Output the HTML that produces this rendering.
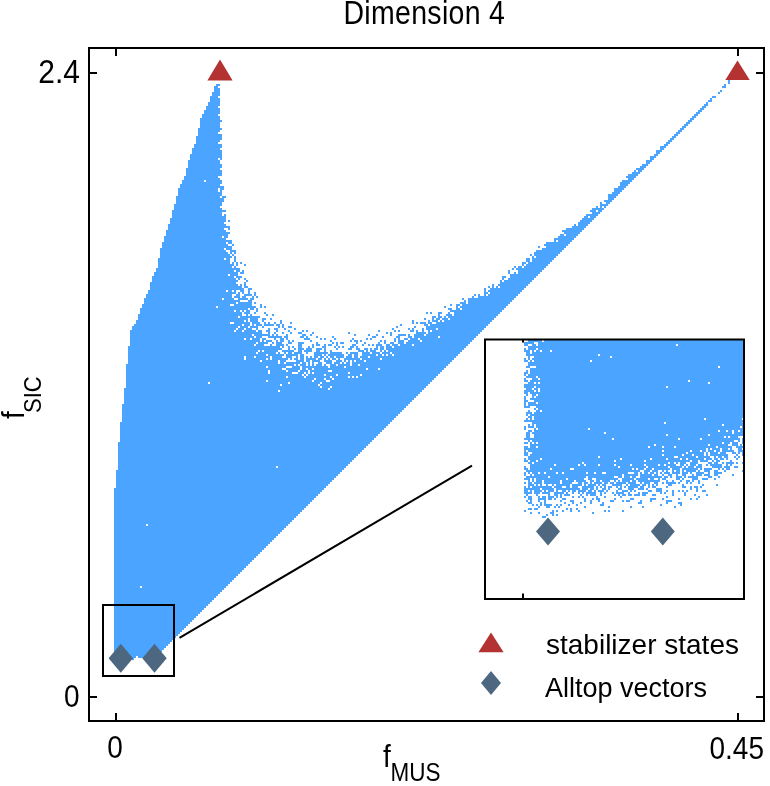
<!DOCTYPE html><html><head><meta charset="utf-8"><style>html,body{margin:0;padding:0;background:#fff;overflow:hidden}svg{display:block}</style></head><body><svg width="770" height="786" viewBox="0 0 770 786"><rect width="770" height="786" fill="#fff"/><path d="M728 80h2v2h-2zM728 82h2v2h-2zM216 84h4v2h-4zM724 84h2v2h-2zM214 86h4v2h-4zM722 86h4v2h-4zM214 88h6v2h-6zM214 90h6v2h-6zM720 90h2v2h-2zM212 92h8v2h-8zM718 92h2v2h-2zM212 94h8v2h-8zM210 96h8v2h-8zM712 96h4v2h-4zM210 98h10v2h-10zM710 98h2v2h-2zM210 100h10v2h-10zM708 100h4v2h-4zM208 102h12v2h-12zM706 102h2v2h-2zM208 104h12v2h-12zM704 104h4v2h-4zM206 106h12v2h-12zM702 106h4v2h-4zM206 108h14v2h-14zM700 108h4v2h-4zM204 110h16v2h-16zM698 110h4v2h-4zM204 112h16v2h-16zM696 112h4v2h-4zM202 114h16v2h-16zM694 114h4v2h-4zM202 116h18v2h-18zM692 116h4v2h-4zM200 118h20v2h-20zM690 118h4v2h-4zM200 120h22v2h-22zM688 120h4v2h-4zM200 122h20v2h-20zM686 122h4v2h-4zM200 124h20v2h-20zM684 124h4v2h-4zM200 126h20v2h-20zM682 126h4v2h-4zM198 128h24v2h-24zM680 128h4v2h-4zM198 130h22v2h-22zM678 130h4v2h-4zM198 132h20v2h-20zM676 132h4v2h-4zM198 134h24v2h-24zM674 134h4v2h-4zM196 136h26v2h-26zM672 136h4v2h-4zM196 138h26v2h-26zM670 138h4v2h-4zM196 140h24v2h-24zM668 140h4v2h-4zM196 142h22v2h-22zM666 142h4v2h-4zM194 144h28v2h-28zM664 144h4v2h-4zM194 146h28v2h-28zM660 146h6v2h-6zM192 148h28v2h-28zM660 148h4v2h-4zM192 150h30v2h-30zM656 150h6v2h-6zM192 152h30v2h-30zM656 152h4v2h-4zM190 154h32v2h-32zM654 154h4v2h-4zM190 156h32v2h-32zM650 156h6v2h-6zM190 158h28v2h-28zM220 158h2v2h-2zM650 158h4v2h-4zM188 160h32v2h-32zM646 160h6v2h-6zM188 162h32v2h-32zM646 162h4v2h-4zM188 164h34v2h-34zM642 164h6v2h-6zM188 166h34v2h-34zM640 166h6v2h-6zM186 168h34v2h-34zM636 168h8v2h-8zM186 170h36v2h-36zM634 170h2v2h-2zM638 170h4v2h-4zM186 172h36v2h-36zM632 172h8v2h-8zM186 174h36v2h-36zM628 174h10v2h-10zM184 176h34v2h-34zM626 176h10v2h-10zM184 178h36v2h-36zM628 178h6v2h-6zM182 180h22v2h-22zM206 180h16v2h-16zM622 180h10v2h-10zM182 182h40v2h-40zM620 182h10v2h-10zM180 184h40v2h-40zM620 184h8v2h-8zM180 186h44v2h-44zM618 186h8v2h-8zM178 188h40v2h-40zM220 188h4v2h-4zM614 188h10v2h-10zM178 190h40v2h-40zM220 190h2v2h-2zM614 190h8v2h-8zM178 192h44v2h-44zM612 192h8v2h-8zM178 194h44v2h-44zM608 194h10v2h-10zM176 196h44v2h-44zM222 196h4v2h-4zM608 196h8v2h-8zM176 198h48v2h-48zM608 198h6v2h-6zM176 200h48v2h-48zM604 200h8v2h-8zM176 202h46v2h-46zM600 202h2v2h-2zM606 202h4v2h-4zM174 204h48v2h-48zM600 204h8v2h-8zM174 206h46v2h-46zM596 206h2v2h-2zM600 206h2v2h-2zM604 206h2v2h-2zM174 208h48v2h-48zM592 208h12v2h-12zM172 210h54v2h-54zM590 210h6v2h-6zM598 210h4v2h-4zM172 212h50v2h-50zM592 212h8v2h-8zM172 214h50v2h-50zM224 214h2v2h-2zM586 214h12v2h-12zM172 216h54v2h-54zM584 216h4v2h-4zM590 216h6v2h-6zM170 218h56v2h-56zM582 218h12v2h-12zM170 220h56v2h-56zM228 220h2v2h-2zM580 220h12v2h-12zM170 222h54v2h-54zM578 222h12v2h-12zM168 224h58v2h-58zM574 224h2v2h-2zM578 224h10v2h-10zM168 226h62v2h-62zM572 226h14v2h-14zM168 228h56v2h-56zM228 228h2v2h-2zM566 228h18v2h-18zM166 230h60v2h-60zM562 230h20v2h-20zM166 232h64v2h-64zM564 232h16v2h-16zM166 234h62v2h-62zM560 234h4v2h-4zM566 234h12v2h-12zM164 236h58v2h-58zM224 236h4v2h-4zM558 236h18v2h-18zM164 238h62v2h-62zM554 238h20v2h-20zM164 240h68v2h-68zM554 240h2v2h-2zM558 240h14v2h-14zM162 242h64v2h-64zM228 242h4v2h-4zM546 242h24v2h-24zM162 244h66v2h-66zM232 244h2v2h-2zM544 244h24v2h-24zM162 246h70v2h-70zM538 246h2v2h-2zM546 246h20v2h-20zM160 248h64v2h-64zM226 248h6v2h-6zM542 248h22v2h-22zM160 250h66v2h-66zM230 250h6v2h-6zM536 250h26v2h-26zM160 252h68v2h-68zM230 252h2v2h-2zM234 252h2v2h-2zM534 252h26v2h-26zM160 254h70v2h-70zM232 254h2v2h-2zM530 254h2v2h-2zM534 254h24v2h-24zM160 256h72v2h-72zM234 256h2v2h-2zM532 256h2v2h-2zM536 256h20v2h-20zM158 258h66v2h-66zM226 258h4v2h-4zM234 258h2v2h-2zM526 258h4v2h-4zM532 258h22v2h-22zM158 260h72v2h-72zM234 260h2v2h-2zM526 260h4v2h-4zM532 260h20v2h-20zM158 262h72v2h-72zM232 262h2v2h-2zM236 262h2v2h-2zM240 262h2v2h-2zM522 262h4v2h-4zM528 262h22v2h-22zM158 264h76v2h-76zM236 264h2v2h-2zM244 264h2v2h-2zM522 264h2v2h-2zM526 264h22v2h-22zM158 266h74v2h-74zM234 266h2v2h-2zM514 266h2v2h-2zM518 266h4v2h-4zM524 266h22v2h-22zM156 268h84v2h-84zM512 268h2v2h-2zM516 268h28v2h-28zM156 270h78v2h-78zM236 270h4v2h-4zM242 270h2v2h-2zM508 270h2v2h-2zM518 270h24v2h-24zM154 272h84v2h-84zM240 272h4v2h-4zM508 272h2v2h-2zM514 272h2v2h-2zM518 272h22v2h-22zM154 274h74v2h-74zM230 274h8v2h-8zM510 274h28v2h-28zM152 276h82v2h-82zM236 276h6v2h-6zM502 276h4v2h-4zM510 276h26v2h-26zM152 278h84v2h-84zM238 278h2v2h-2zM244 278h2v2h-2zM502 278h2v2h-2zM508 278h26v2h-26zM152 280h86v2h-86zM246 280h2v2h-2zM500 280h2v2h-2zM504 280h28v2h-28zM150 282h86v2h-86zM244 282h2v2h-2zM500 282h30v2h-30zM150 284h88v2h-88zM240 284h2v2h-2zM244 284h2v2h-2zM492 284h2v2h-2zM498 284h30v2h-30zM150 286h92v2h-92zM244 286h4v2h-4zM488 286h2v2h-2zM492 286h2v2h-2zM496 286h2v2h-2zM500 286h26v2h-26zM150 288h94v2h-94zM248 288h4v2h-4zM484 288h2v2h-2zM490 288h34v2h-34zM148 290h78v2h-78zM228 290h4v2h-4zM234 290h2v2h-2zM240 290h4v2h-4zM248 290h2v2h-2zM484 290h2v2h-2zM488 290h34v2h-34zM148 292h88v2h-88zM238 292h2v2h-2zM242 292h2v2h-2zM248 292h2v2h-2zM254 292h2v2h-2zM484 292h4v2h-4zM490 292h30v2h-30zM146 294h86v2h-86zM236 294h4v2h-4zM244 294h8v2h-8zM254 294h2v2h-2zM474 294h2v2h-2zM478 294h2v2h-2zM484 294h2v2h-2zM488 294h30v2h-30zM146 296h86v2h-86zM234 296h6v2h-6zM242 296h4v2h-4zM252 296h2v2h-2zM256 296h2v2h-2zM472 296h2v2h-2zM478 296h38v2h-38zM144 298h78v2h-78zM224 298h10v2h-10zM238 298h10v2h-10zM250 298h4v2h-4zM462 298h2v2h-2zM468 298h46v2h-46zM144 300h96v2h-96zM248 300h4v2h-4zM464 300h2v2h-2zM468 300h44v2h-44zM144 302h92v2h-92zM238 302h14v2h-14zM254 302h2v2h-2zM460 302h6v2h-6zM468 302h42v2h-42zM142 304h88v2h-88zM234 304h18v2h-18zM260 304h2v2h-2zM450 304h2v2h-2zM456 304h4v2h-4zM462 304h46v2h-46zM142 306h74v2h-74zM218 306h38v2h-38zM260 306h2v2h-2zM264 306h2v2h-2zM444 306h2v2h-2zM456 306h2v2h-2zM460 306h46v2h-46zM140 308h108v2h-108zM250 308h4v2h-4zM256 308h2v2h-2zM448 308h4v2h-4zM456 308h4v2h-4zM462 308h42v2h-42zM140 310h94v2h-94zM236 310h4v2h-4zM242 310h2v2h-2zM246 310h4v2h-4zM256 310h2v2h-2zM450 310h52v2h-52zM140 312h102v2h-102zM244 312h6v2h-6zM254 312h2v2h-2zM264 312h2v2h-2zM426 312h2v2h-2zM430 312h2v2h-2zM438 312h4v2h-4zM448 312h2v2h-2zM454 312h46v2h-46zM138 314h104v2h-104zM246 314h2v2h-2zM250 314h2v2h-2zM266 314h2v2h-2zM272 314h2v2h-2zM438 314h2v2h-2zM446 314h6v2h-6zM454 314h44v2h-44zM138 316h100v2h-100zM240 316h20v2h-20zM432 316h4v2h-4zM438 316h4v2h-4zM444 316h2v2h-2zM448 316h48v2h-48zM138 318h110v2h-110zM250 318h8v2h-8zM262 318h4v2h-4zM270 318h2v2h-2zM424 318h2v2h-2zM432 318h2v2h-2zM436 318h4v2h-4zM442 318h6v2h-6zM450 318h44v2h-44zM136 320h108v2h-108zM246 320h2v2h-2zM250 320h8v2h-8zM262 320h2v2h-2zM280 320h2v2h-2zM412 320h2v2h-2zM428 320h2v2h-2zM432 320h6v2h-6zM440 320h2v2h-2zM444 320h48v2h-48zM136 322h94v2h-94zM234 322h16v2h-16zM252 322h8v2h-8zM264 322h2v2h-2zM268 322h2v2h-2zM274 322h2v2h-2zM280 322h2v2h-2zM290 322h2v2h-2zM412 322h2v2h-2zM416 322h2v2h-2zM420 322h6v2h-6zM428 322h4v2h-4zM436 322h54v2h-54zM134 324h108v2h-108zM244 324h6v2h-6zM252 324h2v2h-2zM256 324h6v2h-6zM264 324h10v2h-10zM276 324h4v2h-4zM282 324h2v2h-2zM400 324h2v2h-2zM424 324h4v2h-4zM430 324h58v2h-58zM132 326h106v2h-106zM240 326h8v2h-8zM250 326h8v2h-8zM262 326h2v2h-2zM278 326h2v2h-2zM282 326h2v2h-2zM288 326h4v2h-4zM396 326h2v2h-2zM414 326h2v2h-2zM426 326h60v2h-60zM132 328h104v2h-104zM238 328h6v2h-6zM246 328h6v2h-6zM256 328h2v2h-2zM268 328h2v2h-2zM274 328h4v2h-4zM284 328h2v2h-2zM294 328h2v2h-2zM392 328h2v2h-2zM408 328h2v2h-2zM412 328h2v2h-2zM422 328h2v2h-2zM426 328h10v2h-10zM438 328h46v2h-46zM130 330h104v2h-104zM236 330h6v2h-6zM244 330h12v2h-12zM258 330h4v2h-4zM266 330h4v2h-4zM276 330h2v2h-2zM288 330h2v2h-2zM302 330h2v2h-2zM306 330h2v2h-2zM378 330h2v2h-2zM394 330h2v2h-2zM398 330h2v2h-2zM410 330h4v2h-4zM416 330h2v2h-2zM422 330h2v2h-2zM428 330h2v2h-2zM432 330h50v2h-50zM130 332h132v2h-132zM268 332h2v2h-2zM274 332h2v2h-2zM282 332h2v2h-2zM290 332h2v2h-2zM298 332h4v2h-4zM312 332h2v2h-2zM348 332h2v2h-2zM386 332h2v2h-2zM390 332h2v2h-2zM416 332h10v2h-10zM428 332h52v2h-52zM130 334h122v2h-122zM254 334h16v2h-16zM272 334h2v2h-2zM276 334h2v2h-2zM286 334h2v2h-2zM302 334h4v2h-4zM310 334h2v2h-2zM354 334h2v2h-2zM368 334h2v2h-2zM376 334h2v2h-2zM390 334h2v2h-2zM398 334h8v2h-8zM408 334h2v2h-2zM414 334h10v2h-10zM426 334h52v2h-52zM130 336h124v2h-124zM256 336h6v2h-6zM268 336h14v2h-14zM284 336h4v2h-4zM300 336h4v2h-4zM306 336h2v2h-2zM316 336h2v2h-2zM332 336h2v2h-2zM372 336h4v2h-4zM382 336h2v2h-2zM396 336h4v2h-4zM408 336h4v2h-4zM414 336h24v2h-24zM440 336h36v2h-36zM130 338h114v2h-114zM246 338h4v2h-4zM252 338h8v2h-8zM262 338h4v2h-4zM274 338h2v2h-2zM280 338h4v2h-4zM286 338h2v2h-2zM304 338h6v2h-6zM320 338h2v2h-2zM324 338h2v2h-2zM334 338h2v2h-2zM352 338h2v2h-2zM366 338h2v2h-2zM370 338h2v2h-2zM394 338h2v2h-2zM398 338h2v2h-2zM404 338h4v2h-4zM410 338h8v2h-8zM420 338h54v2h-54zM130 340h130v2h-130zM262 340h2v2h-2zM266 340h6v2h-6zM276 340h2v2h-2zM280 340h4v2h-4zM288 340h2v2h-2zM292 340h2v2h-2zM310 340h2v2h-2zM330 340h2v2h-2zM350 340h2v2h-2zM354 340h4v2h-4zM360 340h2v2h-2zM380 340h2v2h-2zM384 340h2v2h-2zM394 340h2v2h-2zM398 340h6v2h-6zM408 340h12v2h-12zM422 340h50v2h-50zM130 342h126v2h-126zM258 342h10v2h-10zM272 342h2v2h-2zM276 342h6v2h-6zM288 342h4v2h-4zM298 342h6v2h-6zM316 342h2v2h-2zM332 342h2v2h-2zM336 342h2v2h-2zM340 342h4v2h-4zM356 342h2v2h-2zM364 342h2v2h-2zM378 342h2v2h-2zM384 342h2v2h-2zM390 342h4v2h-4zM398 342h6v2h-6zM406 342h64v2h-64zM130 344h124v2h-124zM256 344h8v2h-8zM270 344h2v2h-2zM276 344h8v2h-8zM286 344h2v2h-2zM298 344h4v2h-4zM312 344h2v2h-2zM316 344h4v2h-4zM324 344h2v2h-2zM328 344h4v2h-4zM336 344h2v2h-2zM352 344h4v2h-4zM362 344h2v2h-2zM368 344h2v2h-2zM372 344h2v2h-2zM376 344h6v2h-6zM386 344h4v2h-4zM392 344h6v2h-6zM400 344h12v2h-12zM414 344h54v2h-54zM128 346h152v2h-152zM282 346h2v2h-2zM288 346h2v2h-2zM292 346h2v2h-2zM298 346h4v2h-4zM308 346h2v2h-2zM312 346h2v2h-2zM322 346h4v2h-4zM334 346h2v2h-2zM338 346h2v2h-2zM342 346h2v2h-2zM350 346h4v2h-4zM356 346h2v2h-2zM376 346h2v2h-2zM380 346h4v2h-4zM386 346h6v2h-6zM394 346h72v2h-72zM128 348h154v2h-154zM288 348h2v2h-2zM294 348h2v2h-2zM298 348h6v2h-6zM306 348h6v2h-6zM316 348h6v2h-6zM324 348h2v2h-2zM336 348h2v2h-2zM348 348h4v2h-4zM356 348h4v2h-4zM364 348h4v2h-4zM370 348h2v2h-2zM374 348h4v2h-4zM380 348h4v2h-4zM386 348h78v2h-78zM128 350h130v2h-130zM260 350h2v2h-2zM264 350h14v2h-14zM282 350h12v2h-12zM298 350h4v2h-4zM304 350h8v2h-8zM316 350h4v2h-4zM324 350h2v2h-2zM330 350h2v2h-2zM358 350h6v2h-6zM366 350h2v2h-2zM370 350h6v2h-6zM380 350h2v2h-2zM384 350h2v2h-2zM388 350h74v2h-74zM128 352h128v2h-128zM258 352h18v2h-18zM278 352h2v2h-2zM284 352h2v2h-2zM288 352h4v2h-4zM294 352h8v2h-8zM306 352h2v2h-2zM314 352h14v2h-14zM330 352h12v2h-12zM346 352h2v2h-2zM350 352h8v2h-8zM362 352h8v2h-8zM372 352h8v2h-8zM382 352h8v2h-8zM392 352h68v2h-68zM128 354h138v2h-138zM268 354h16v2h-16zM286 354h12v2h-12zM300 354h4v2h-4zM314 354h8v2h-8zM324 354h2v2h-2zM328 354h16v2h-16zM348 354h4v2h-4zM354 354h4v2h-4zM362 354h14v2h-14zM378 354h4v2h-4zM384 354h2v2h-2zM388 354h4v2h-4zM394 354h64v2h-64zM128 356h116v2h-116zM246 356h8v2h-8zM256 356h14v2h-14zM272 356h10v2h-10zM286 356h6v2h-6zM296 356h2v2h-2zM300 356h4v2h-4zM306 356h2v2h-2zM310 356h2v2h-2zM314 356h4v2h-4zM320 356h4v2h-4zM326 356h2v2h-2zM330 356h4v2h-4zM336 356h8v2h-8zM346 356h6v2h-6zM354 356h4v2h-4zM360 356h8v2h-8zM370 356h86v2h-86zM128 358h116v2h-116zM246 358h20v2h-20zM268 358h2v2h-2zM272 358h16v2h-16zM290 358h2v2h-2zM294 358h4v2h-4zM300 358h4v2h-4zM306 358h10v2h-10zM318 358h4v2h-4zM324 358h2v2h-2zM328 358h2v2h-2zM332 358h4v2h-4zM338 358h2v2h-2zM344 358h16v2h-16zM362 358h18v2h-18zM382 358h72v2h-72zM128 360h132v2h-132zM262 360h16v2h-16zM280 360h6v2h-6zM296 360h8v2h-8zM306 360h4v2h-4zM312 360h8v2h-8zM324 360h8v2h-8zM336 360h6v2h-6zM344 360h2v2h-2zM348 360h2v2h-2zM352 360h2v2h-2zM356 360h8v2h-8zM366 360h86v2h-86zM128 362h150v2h-150zM280 362h4v2h-4zM286 362h14v2h-14zM302 362h4v2h-4zM308 362h2v2h-2zM312 362h2v2h-2zM318 362h4v2h-4zM326 362h6v2h-6zM334 362h6v2h-6zM342 362h2v2h-2zM346 362h4v2h-4zM352 362h98v2h-98zM126 364h168v2h-168zM296 364h2v2h-2zM300 364h6v2h-6zM308 364h2v2h-2zM312 364h2v2h-2zM316 364h6v2h-6zM324 364h2v2h-2zM330 364h6v2h-6zM338 364h12v2h-12zM352 364h6v2h-6zM360 364h88v2h-88zM126 366h140v2h-140zM268 366h18v2h-18zM292 366h8v2h-8zM302 366h26v2h-26zM330 366h14v2h-14zM346 366h100v2h-100zM126 368h156v2h-156zM286 368h14v2h-14zM302 368h4v2h-4zM308 368h4v2h-4zM314 368h52v2h-52zM368 368h10v2h-10zM380 368h64v2h-64zM126 370h142v2h-142zM270 370h16v2h-16zM288 370h10v2h-10zM300 370h8v2h-8zM310 370h18v2h-18zM332 370h110v2h-110zM126 372h142v2h-142zM270 372h22v2h-22zM298 372h6v2h-6zM306 372h2v2h-2zM310 372h2v2h-2zM314 372h34v2h-34zM350 372h90v2h-90zM126 374h176v2h-176zM304 374h2v2h-2zM308 374h16v2h-16zM326 374h10v2h-10zM338 374h22v2h-22zM362 374h76v2h-76zM126 376h160v2h-160zM288 376h16v2h-16zM306 376h24v2h-24zM332 376h16v2h-16zM350 376h2v2h-2zM354 376h2v2h-2zM358 376h78v2h-78zM126 378h188v2h-188zM316 378h8v2h-8zM326 378h6v2h-6zM334 378h100v2h-100zM126 380h140v2h-140zM268 380h44v2h-44zM314 380h12v2h-12zM330 380h102v2h-102zM126 382h82v2h-82zM210 382h78v2h-78zM290 382h30v2h-30zM322 382h108v2h-108zM126 384h154v2h-154zM282 384h36v2h-36zM320 384h108v2h-108zM126 386h194v2h-194zM322 386h8v2h-8zM332 386h94v2h-94zM124 388h204v2h-204zM330 388h94v2h-94zM124 390h154v2h-154zM280 390h142v2h-142zM124 392h296v2h-296zM124 394h294v2h-294zM124 396h292v2h-292zM124 398h290v2h-290zM124 400h288v2h-288zM124 402h286v2h-286zM122 404h286v2h-286zM122 406h284v2h-284zM122 408h282v2h-282zM122 410h280v2h-280zM122 412h278v2h-278zM122 414h276v2h-276zM122 416h274v2h-274zM122 418h272v2h-272zM122 420h270v2h-270zM120 422h270v2h-270zM120 424h268v2h-268zM120 426h266v2h-266zM120 428h264v2h-264zM120 430h262v2h-262zM120 432h260v2h-260zM120 434h258v2h-258zM120 436h256v2h-256zM120 438h254v2h-254zM120 440h252v2h-252zM118 442h252v2h-252zM118 444h250v2h-250zM118 446h248v2h-248zM118 448h246v2h-246zM118 450h244v2h-244zM118 452h242v2h-242zM118 454h240v2h-240zM118 456h238v2h-238zM118 458h236v2h-236zM118 460h234v2h-234zM118 462h232v2h-232zM118 464h230v2h-230zM118 466h158v2h-158zM278 466h68v2h-68zM118 468h226v2h-226zM116 470h226v2h-226zM116 472h224v2h-224zM116 474h222v2h-222zM116 476h220v2h-220zM116 478h218v2h-218zM116 480h216v2h-216zM116 482h214v2h-214zM116 484h212v2h-212zM116 486h210v2h-210zM114 488h210v2h-210zM114 490h208v2h-208zM114 492h206v2h-206zM114 494h204v2h-204zM114 496h202v2h-202zM114 498h200v2h-200zM114 500h198v2h-198zM114 502h196v2h-196zM114 504h194v2h-194zM114 506h192v2h-192zM114 508h190v2h-190zM114 510h188v2h-188zM114 512h186v2h-186zM114 514h184v2h-184zM114 516h182v2h-182zM114 518h180v2h-180zM114 520h178v2h-178zM114 522h176v2h-176zM114 524h32v2h-32zM148 524h140v2h-140zM114 526h172v2h-172zM114 528h170v2h-170zM114 530h168v2h-168zM114 532h166v2h-166zM114 534h164v2h-164zM114 536h162v2h-162zM114 538h160v2h-160zM114 540h158v2h-158zM114 542h156v2h-156zM114 544h154v2h-154zM114 546h152v2h-152zM114 548h150v2h-150zM114 550h148v2h-148zM114 552h146v2h-146zM114 554h144v2h-144zM114 556h142v2h-142zM114 558h140v2h-140zM114 560h138v2h-138zM114 562h136v2h-136zM114 564h134v2h-134zM114 566h132v2h-132zM114 568h130v2h-130zM114 570h128v2h-128zM114 572h126v2h-126zM114 574h124v2h-124zM114 576h122v2h-122zM114 578h120v2h-120zM114 580h118v2h-118zM114 582h116v2h-116zM114 584h114v2h-114zM114 586h26v2h-26zM142 586h84v2h-84zM114 588h110v2h-110zM114 590h108v2h-108zM114 592h106v2h-106zM114 594h104v2h-104zM114 596h102v2h-102zM114 598h100v2h-100zM114 600h98v2h-98zM114 602h96v2h-96zM114 604h94v2h-94zM114 606h92v2h-92zM114 608h90v2h-90zM114 610h88v2h-88zM114 612h86v2h-86zM114 614h84v2h-84zM114 616h82v2h-82zM114 618h80v2h-80zM114 620h78v2h-78zM114 622h76v2h-76zM114 624h74v2h-74zM114 626h72v2h-72zM114 628h70v2h-70zM114 630h68v2h-68zM114 632h66v2h-66zM114 634h64v2h-64zM114 636h62v2h-62zM114 638h60v2h-60zM114 640h58v2h-58zM114 642h56v2h-56zM114 644h54v2h-54zM114 646h52v2h-52zM114 648h50v2h-50zM114 650h48v2h-48zM114 652h46v2h-46zM114 654h44v2h-44zM114 656h22v2h-22zM138 656h18v2h-18zM114 658h20v2h-20zM146 658h6v2h-6zM114 660h16v2h-16zM114 662h14v2h-14z" fill="#4ba4ff" shape-rendering="crispEdges"/><rect x="103" y="605" width="71" height="71" fill="none" stroke="#000" stroke-width="2"/><line x1="179.5" y1="637.9" x2="472" y2="465.6" stroke="#000" stroke-width="2"/><path d="M120.8 643.7L133.0 658.2L120.8 672.7L108.6 658.2Z" fill="#4d6780"/><path d="M154.5 643.7L166.7 658.2L154.5 672.7L142.3 658.2Z" fill="#4d6780"/><rect x="485" y="339.5" width="259" height="259.5" fill="#fff" stroke="none"/><path d="M528 340h14v2h-14zM544 340h200v2h-200zM524 342h10v2h-10zM538 342h206v2h-206zM524 344h4v2h-4zM532 344h4v2h-4zM538 344h138v2h-138zM678 344h66v2h-66zM528 346h216v2h-216zM524 348h2v2h-2zM528 348h8v2h-8zM538 348h206v2h-206zM524 350h6v2h-6zM532 350h2v2h-2zM536 350h4v2h-4zM542 350h8v2h-8zM552 350h192v2h-192zM526 352h4v2h-4zM532 352h212v2h-212zM526 354h72v2h-72zM600 354h144v2h-144zM528 356h2v2h-2zM534 356h76v2h-76zM612 356h132v2h-132zM524 358h2v2h-2zM528 358h2v2h-2zM532 358h212v2h-212zM524 360h4v2h-4zM530 360h2v2h-2zM534 360h56v2h-56zM592 360h152v2h-152zM528 362h216v2h-216zM528 364h216v2h-216zM526 366h4v2h-4zM536 366h182v2h-182zM720 366h24v2h-24zM530 368h214v2h-214zM526 370h2v2h-2zM530 370h214v2h-214zM524 372h4v2h-4zM530 372h214v2h-214zM524 374h2v2h-2zM528 374h216v2h-216zM526 376h10v2h-10zM538 376h206v2h-206zM524 378h2v2h-2zM532 378h6v2h-6zM540 378h204v2h-204zM524 380h4v2h-4zM530 380h158v2h-158zM690 380h54v2h-54zM528 382h6v2h-6zM536 382h2v2h-2zM540 382h168v2h-168zM710 382h34v2h-34zM524 384h220v2h-220zM524 386h10v2h-10zM536 386h130v2h-130zM668 386h76v2h-76zM526 388h6v2h-6zM534 388h4v2h-4zM540 388h204v2h-204zM524 390h10v2h-10zM536 390h2v2h-2zM540 390h204v2h-204zM524 392h4v2h-4zM530 392h214v2h-214zM526 394h2v2h-2zM532 394h4v2h-4zM538 394h206v2h-206zM524 396h2v2h-2zM532 396h2v2h-2zM536 396h208v2h-208zM524 398h2v2h-2zM530 398h214v2h-214zM524 400h4v2h-4zM534 400h210v2h-210zM524 402h2v2h-2zM528 402h8v2h-8zM538 402h206v2h-206zM524 404h2v2h-2zM528 404h216v2h-216zM524 406h6v2h-6zM536 406h208v2h-208zM534 408h2v2h-2zM538 408h206v2h-206zM528 410h2v2h-2zM536 410h4v2h-4zM542 410h202v2h-202zM526 412h6v2h-6zM534 412h210v2h-210zM526 414h2v2h-2zM530 414h214v2h-214zM528 416h4v2h-4zM534 416h210v2h-210zM526 418h2v2h-2zM530 418h2v2h-2zM534 418h170v2h-170zM706 418h36v2h-36zM524 420h220v2h-220zM532 422h132v2h-132zM666 422h78v2h-78zM528 424h2v2h-2zM532 424h2v2h-2zM536 424h186v2h-186zM724 424h20v2h-20zM524 426h2v2h-2zM528 426h6v2h-6zM536 426h204v2h-204zM742 426h2v2h-2zM524 428h2v2h-2zM534 428h2v2h-2zM538 428h50v2h-50zM590 428h154v2h-154zM528 430h4v2h-4zM534 430h184v2h-184zM720 430h6v2h-6zM728 430h4v2h-4zM734 430h4v2h-4zM740 430h4v2h-4zM526 432h4v2h-4zM532 432h72v2h-72zM606 432h126v2h-126zM734 432h10v2h-10zM526 434h4v2h-4zM534 434h132v2h-132zM668 434h40v2h-40zM710 434h34v2h-34zM526 436h4v2h-4zM534 436h190v2h-190zM726 436h2v2h-2zM730 436h8v2h-8zM524 438h88v2h-88zM614 438h64v2h-64zM680 438h20v2h-20zM702 438h38v2h-38zM742 438h2v2h-2zM528 440h2v2h-2zM532 440h202v2h-202zM738 440h2v2h-2zM742 440h2v2h-2zM524 442h4v2h-4zM530 442h2v2h-2zM534 442h2v2h-2zM538 442h184v2h-184zM724 442h6v2h-6zM732 442h6v2h-6zM742 442h2v2h-2zM530 444h124v2h-124zM656 444h52v2h-52zM710 444h18v2h-18zM732 444h6v2h-6zM740 444h2v2h-2zM524 446h4v2h-4zM530 446h6v2h-6zM538 446h110v2h-110zM650 446h12v2h-12zM664 446h10v2h-10zM676 446h40v2h-40zM718 446h14v2h-14zM736 446h8v2h-8zM524 448h182v2h-182zM708 448h2v2h-2zM712 448h8v2h-8zM722 448h6v2h-6zM730 448h2v2h-2zM738 448h4v2h-4zM524 450h2v2h-2zM528 450h134v2h-134zM664 450h26v2h-26zM692 450h8v2h-8zM702 450h4v2h-4zM708 450h6v2h-6zM716 450h4v2h-4zM722 450h12v2h-12zM738 450h6v2h-6zM524 452h4v2h-4zM532 452h154v2h-154zM688 452h16v2h-16zM706 452h2v2h-2zM710 452h8v2h-8zM720 452h6v2h-6zM732 452h4v2h-4zM738 452h2v2h-2zM742 452h2v2h-2zM524 454h4v2h-4zM530 454h132v2h-132zM664 454h18v2h-18zM684 454h8v2h-8zM694 454h10v2h-10zM706 454h2v2h-2zM710 454h18v2h-18zM736 454h2v2h-2zM742 454h2v2h-2zM528 456h70v2h-70zM600 456h74v2h-74zM678 456h18v2h-18zM698 456h12v2h-12zM714 456h2v2h-2zM718 456h4v2h-4zM724 456h4v2h-4zM734 456h2v2h-2zM738 456h2v2h-2zM524 458h2v2h-2zM528 458h12v2h-12zM542 458h78v2h-78zM622 458h28v2h-28zM652 458h14v2h-14zM668 458h12v2h-12zM682 458h4v2h-4zM688 458h16v2h-16zM706 458h6v2h-6zM714 458h4v2h-4zM720 458h4v2h-4zM726 458h2v2h-2zM736 458h2v2h-2zM524 460h4v2h-4zM530 460h6v2h-6zM538 460h76v2h-76zM616 460h28v2h-28zM646 460h44v2h-44zM692 460h6v2h-6zM700 460h8v2h-8zM712 460h2v2h-2zM716 460h4v2h-4zM730 460h2v2h-2zM528 462h4v2h-4zM534 462h48v2h-48zM584 462h84v2h-84zM670 462h4v2h-4zM676 462h2v2h-2zM680 462h6v2h-6zM690 462h8v2h-8zM708 462h4v2h-4zM714 462h4v2h-4zM722 462h2v2h-2zM726 462h8v2h-8zM736 462h2v2h-2zM742 462h2v2h-2zM530 464h24v2h-24zM556 464h22v2h-22zM580 464h4v2h-4zM586 464h12v2h-12zM600 464h14v2h-14zM616 464h14v2h-14zM632 464h12v2h-12zM646 464h12v2h-12zM660 464h4v2h-4zM666 464h10v2h-10zM680 464h4v2h-4zM686 464h2v2h-2zM690 464h6v2h-6zM698 464h4v2h-4zM706 464h2v2h-2zM710 464h12v2h-12zM726 464h2v2h-2zM730 464h2v2h-2zM524 466h2v2h-2zM530 466h88v2h-88zM620 466h26v2h-26zM648 466h20v2h-20zM670 466h12v2h-12zM684 466h2v2h-2zM688 466h6v2h-6zM696 466h6v2h-6zM712 466h10v2h-10zM724 466h6v2h-6zM734 466h4v2h-4zM524 468h4v2h-4zM530 468h20v2h-20zM552 468h18v2h-18zM574 468h58v2h-58zM634 468h2v2h-2zM638 468h6v2h-6zM646 468h6v2h-6zM654 468h16v2h-16zM672 468h8v2h-8zM682 468h16v2h-16zM700 468h2v2h-2zM704 468h8v2h-8zM718 468h2v2h-2zM722 468h2v2h-2zM726 468h4v2h-4zM526 470h114v2h-114zM644 470h6v2h-6zM652 470h6v2h-6zM662 470h2v2h-2zM666 470h2v2h-2zM672 470h2v2h-2zM676 470h4v2h-4zM682 470h2v2h-2zM686 470h10v2h-10zM698 470h2v2h-2zM704 470h6v2h-6zM714 470h4v2h-4zM724 470h2v2h-2zM742 470h2v2h-2zM524 472h2v2h-2zM528 472h2v2h-2zM532 472h6v2h-6zM540 472h4v2h-4zM546 472h10v2h-10zM558 472h4v2h-4zM564 472h22v2h-22zM588 472h6v2h-6zM596 472h6v2h-6zM606 472h22v2h-22zM634 472h4v2h-4zM640 472h2v2h-2zM644 472h4v2h-4zM650 472h4v2h-4zM656 472h2v2h-2zM660 472h2v2h-2zM664 472h6v2h-6zM672 472h8v2h-8zM682 472h6v2h-6zM690 472h2v2h-2zM696 472h8v2h-8zM708 472h2v2h-2zM714 472h8v2h-8zM524 474h2v2h-2zM530 474h2v2h-2zM534 474h88v2h-88zM624 474h14v2h-14zM640 474h12v2h-12zM654 474h4v2h-4zM662 474h2v2h-2zM668 474h4v2h-4zM676 474h2v2h-2zM682 474h4v2h-4zM692 474h2v2h-2zM696 474h6v2h-6zM704 474h6v2h-6zM714 474h4v2h-4zM732 474h2v2h-2zM526 476h22v2h-22zM550 476h36v2h-36zM588 476h26v2h-26zM618 476h4v2h-4zM624 476h6v2h-6zM632 476h4v2h-4zM640 476h22v2h-22zM664 476h4v2h-4zM670 476h2v2h-2zM676 476h6v2h-6zM684 476h2v2h-2zM688 476h10v2h-10zM708 476h4v2h-4zM718 476h2v2h-2zM524 478h6v2h-6zM532 478h2v2h-2zM536 478h30v2h-30zM568 478h16v2h-16zM588 478h4v2h-4zM596 478h22v2h-22zM622 478h12v2h-12zM636 478h12v2h-12zM650 478h4v2h-4zM658 478h2v2h-2zM662 478h4v2h-4zM676 478h4v2h-4zM682 478h2v2h-2zM692 478h6v2h-6zM702 478h6v2h-6zM714 478h2v2h-2zM528 480h2v2h-2zM532 480h2v2h-2zM536 480h6v2h-6zM544 480h16v2h-16zM562 480h12v2h-12zM576 480h10v2h-10zM590 480h4v2h-4zM596 480h4v2h-4zM602 480h8v2h-8zM614 480h2v2h-2zM618 480h2v2h-2zM622 480h8v2h-8zM632 480h4v2h-4zM638 480h22v2h-22zM666 480h2v2h-2zM672 480h2v2h-2zM680 480h2v2h-2zM686 480h4v2h-4zM692 480h2v2h-2zM698 480h2v2h-2zM524 482h2v2h-2zM528 482h4v2h-4zM534 482h8v2h-8zM544 482h16v2h-16zM562 482h10v2h-10zM578 482h4v2h-4zM584 482h4v2h-4zM590 482h2v2h-2zM594 482h8v2h-8zM604 482h4v2h-4zM610 482h4v2h-4zM616 482h10v2h-10zM628 482h8v2h-8zM640 482h2v2h-2zM644 482h6v2h-6zM654 482h4v2h-4zM662 482h2v2h-2zM666 482h10v2h-10zM678 482h2v2h-2zM686 482h2v2h-2zM690 482h2v2h-2zM698 482h2v2h-2zM528 484h6v2h-6zM536 484h2v2h-2zM540 484h2v2h-2zM546 484h2v2h-2zM552 484h2v2h-2zM556 484h14v2h-14zM572 484h10v2h-10zM584 484h2v2h-2zM588 484h8v2h-8zM598 484h2v2h-2zM602 484h4v2h-4zM612 484h10v2h-10zM626 484h2v2h-2zM630 484h10v2h-10zM642 484h4v2h-4zM648 484h2v2h-2zM652 484h2v2h-2zM656 484h2v2h-2zM668 484h4v2h-4zM682 484h2v2h-2zM702 484h2v2h-2zM716 484h2v2h-2zM524 486h2v2h-2zM528 486h2v2h-2zM532 486h20v2h-20zM554 486h8v2h-8zM566 486h4v2h-4zM572 486h6v2h-6zM582 486h12v2h-12zM596 486h2v2h-2zM600 486h2v2h-2zM604 486h2v2h-2zM608 486h4v2h-4zM616 486h2v2h-2zM620 486h2v2h-2zM624 486h2v2h-2zM628 486h10v2h-10zM640 486h4v2h-4zM648 486h2v2h-2zM652 486h4v2h-4zM666 486h2v2h-2zM682 486h4v2h-4zM690 486h2v2h-2zM694 486h4v2h-4zM700 486h2v2h-2zM524 488h16v2h-16zM542 488h12v2h-12zM556 488h24v2h-24zM582 488h6v2h-6zM590 488h4v2h-4zM596 488h2v2h-2zM602 488h4v2h-4zM608 488h2v2h-2zM618 488h4v2h-4zM628 488h6v2h-6zM638 488h6v2h-6zM646 488h2v2h-2zM656 488h6v2h-6zM690 488h2v2h-2zM696 488h2v2h-2zM524 490h4v2h-4zM530 490h2v2h-2zM534 490h8v2h-8zM544 490h2v2h-2zM548 490h6v2h-6zM556 490h2v2h-2zM562 490h4v2h-4zM568 490h2v2h-2zM572 490h4v2h-4zM578 490h8v2h-8zM588 490h4v2h-4zM594 490h2v2h-2zM598 490h6v2h-6zM606 490h2v2h-2zM616 490h2v2h-2zM622 490h6v2h-6zM630 490h2v2h-2zM634 490h2v2h-2zM648 490h4v2h-4zM656 490h6v2h-6zM666 490h2v2h-2zM672 490h2v2h-2zM678 490h2v2h-2zM682 490h2v2h-2zM686 490h2v2h-2zM696 490h2v2h-2zM702 490h4v2h-4zM524 492h8v2h-8zM534 492h6v2h-6zM542 492h8v2h-8zM554 492h10v2h-10zM566 492h2v2h-2zM572 492h2v2h-2zM578 492h2v2h-2zM582 492h2v2h-2zM586 492h10v2h-10zM600 492h2v2h-2zM604 492h2v2h-2zM612 492h2v2h-2zM616 492h8v2h-8zM628 492h2v2h-2zM638 492h2v2h-2zM642 492h6v2h-6zM660 492h2v2h-2zM664 492h2v2h-2zM672 492h2v2h-2zM684 492h2v2h-2zM526 494h2v2h-2zM536 494h2v2h-2zM548 494h2v2h-2zM554 494h4v2h-4zM560 494h2v2h-2zM564 494h6v2h-6zM580 494h2v2h-2zM586 494h2v2h-2zM590 494h6v2h-6zM600 494h2v2h-2zM614 494h2v2h-2zM618 494h2v2h-2zM622 494h4v2h-4zM628 494h4v2h-4zM634 494h6v2h-6zM642 494h4v2h-4zM652 494h4v2h-4zM672 494h2v2h-2zM684 494h2v2h-2zM694 494h2v2h-2zM706 494h2v2h-2zM524 496h2v2h-2zM528 496h4v2h-4zM538 496h2v2h-2zM542 496h4v2h-4zM548 496h6v2h-6zM556 496h2v2h-2zM560 496h2v2h-2zM572 496h2v2h-2zM578 496h2v2h-2zM582 496h2v2h-2zM596 496h2v2h-2zM604 496h2v2h-2zM620 496h2v2h-2zM666 496h2v2h-2zM698 496h2v2h-2zM528 498h4v2h-4zM538 498h8v2h-8zM548 498h4v2h-4zM554 498h2v2h-2zM562 498h4v2h-4zM584 498h2v2h-2zM592 498h2v2h-2zM596 498h4v2h-4zM614 498h2v2h-2zM630 498h4v2h-4zM650 498h6v2h-6zM662 498h2v2h-2zM678 498h2v2h-2zM690 498h2v2h-2zM696 498h2v2h-2zM526 500h2v2h-2zM530 500h2v2h-2zM538 500h2v2h-2zM544 500h2v2h-2zM560 500h2v2h-2zM570 500h4v2h-4zM584 500h2v2h-2zM590 500h2v2h-2zM598 500h2v2h-2zM610 500h4v2h-4zM622 500h2v2h-2zM626 500h4v2h-4zM640 500h2v2h-2zM650 500h2v2h-2zM666 500h6v2h-6zM528 502h4v2h-4zM540 502h2v2h-2zM544 502h2v2h-2zM564 502h2v2h-2zM572 502h2v2h-2zM580 502h2v2h-2zM590 502h2v2h-2zM602 502h2v2h-2zM638 502h4v2h-4zM666 502h2v2h-2zM678 502h4v2h-4zM532 504h2v2h-2zM536 504h2v2h-2zM540 504h2v2h-2zM544 504h8v2h-8zM556 504h2v2h-2zM560 504h2v2h-2zM568 504h2v2h-2zM576 504h2v2h-2zM600 504h4v2h-4zM660 504h2v2h-2zM680 504h2v2h-2zM538 506h2v2h-2zM546 506h4v2h-4zM554 506h2v2h-2zM558 506h2v2h-2zM584 506h2v2h-2zM608 506h2v2h-2zM630 506h2v2h-2zM642 506h2v2h-2zM674 506h2v2h-2zM528 508h4v2h-4zM534 508h4v2h-4zM566 508h2v2h-2zM570 508h2v2h-2zM576 508h2v2h-2zM524 510h2v2h-2zM552 510h2v2h-2zM556 510h2v2h-2zM562 510h2v2h-2zM570 510h2v2h-2zM578 510h2v2h-2zM604 510h2v2h-2zM608 510h2v2h-2zM622 510h2v2h-2zM530 512h2v2h-2zM538 512h2v2h-2zM550 512h4v2h-4zM592 512h2v2h-2zM546 514h2v2h-2zM552 514h2v2h-2zM556 514h2v2h-2zM542 516h4v2h-4z" fill="#4ba4ff" shape-rendering="crispEdges"/><rect x="485" y="339.5" width="259" height="259.5" fill="none" stroke="#000" stroke-width="2"/><line x1="523" y1="340" x2="523" y2="342.5" stroke="#000" stroke-width="2"/><line x1="523" y1="599" x2="523" y2="593.5" stroke="#000" stroke-width="2"/><path d="M548 517.5L560 531.5L548 545.5L536 531.5Z" fill="#4d6780"/><path d="M662.8 517.5L674.8 531.5L662.8 545.5L650.8 531.5Z" fill="#4d6780"/><path d="M220 59.5L232.6 80.5L207.4 80.5Z" fill="#b43232"/><path d="M737.5 60.4L749.7 79.9L725.3 79.9Z" fill="#b43232"/><rect x="89" y="48" width="675" height="673" fill="none" stroke="#000" stroke-width="2"/><line x1="116" y1="49" x2="116" y2="56" stroke="#000" stroke-width="2"/><line x1="738" y1="49" x2="738" y2="56" stroke="#000" stroke-width="2"/><line x1="116" y1="720" x2="116" y2="713" stroke="#000" stroke-width="2"/><line x1="738" y1="720" x2="738" y2="713" stroke="#000" stroke-width="2"/><line x1="90" y1="73" x2="97" y2="73" stroke="#000" stroke-width="2"/><line x1="90" y1="697" x2="97" y2="697" stroke="#000" stroke-width="2"/><line x1="763" y1="73" x2="756" y2="73" stroke="#000" stroke-width="2"/><line x1="763" y1="697" x2="756" y2="697" stroke="#000" stroke-width="2"/><path d="M491 632.4L503.6 652.3L478.4 652.3Z" fill="#b43232"/><path d="M491 671L501 683L491 695L481 683Z" fill="#4d6780"/><text letter-spacing="0.32" x="0" y="0" font-family="Liberation Sans, Arial, sans-serif" font-size="28.5" text-anchor="start" transform="translate(343.4 23.8) scale(1 1.15)">Dimension 4</text><text x="0" y="0" font-family="Liberation Sans, Arial, sans-serif" font-size="30" text-anchor="end" transform="translate(80 82.6) scale(1 1.1)">2.4</text><text x="0" y="0" font-family="Liberation Sans, Arial, sans-serif" font-size="28" text-anchor="end" transform="translate(79.5 706.6) scale(1 1.15)">0</text><text x="0" y="0" font-family="Liberation Sans, Arial, sans-serif" font-size="28" text-anchor="middle" transform="translate(115.1 758.2) scale(1 1.15)">0</text><text x="0" y="0" font-family="Liberation Sans, Arial, sans-serif" font-size="28" text-anchor="end" transform="translate(764 759.2) scale(1 1.15)">0.45</text><text x="0" y="0" font-family="Liberation Sans, Arial, sans-serif" font-size="28" text-anchor="start" transform="translate(546 654) scale(1 0.98)">stabilizer states</text><text x="0" y="0" font-family="Liberation Sans, Arial, sans-serif" font-size="27" text-anchor="start" transform="translate(545 697.1) scale(1 1.0)">Alltop vectors</text><text x="0" y="0" font-family="Liberation Sans, Arial, sans-serif" font-size="28" text-anchor="start" transform="translate(383 767.4) scale(1 1.1)">f</text><text x="0" y="0" font-family="Liberation Sans, Arial, sans-serif" font-size="22.5" text-anchor="start" transform="translate(390.5 781.4) scale(1 1.15)">MUS</text><g transform="translate(24 419) rotate(-90)"><text x="0" y="0" font-family="Liberation Sans, Arial, sans-serif" font-size="28" text-anchor="start" transform="translate(0 0) scale(1 1.1)">f</text><text x="0" y="0" font-family="Liberation Sans, Arial, sans-serif" font-size="22" text-anchor="start" transform="translate(6 17) scale(1 1.05)">SIC</text></g></svg></body></html>
